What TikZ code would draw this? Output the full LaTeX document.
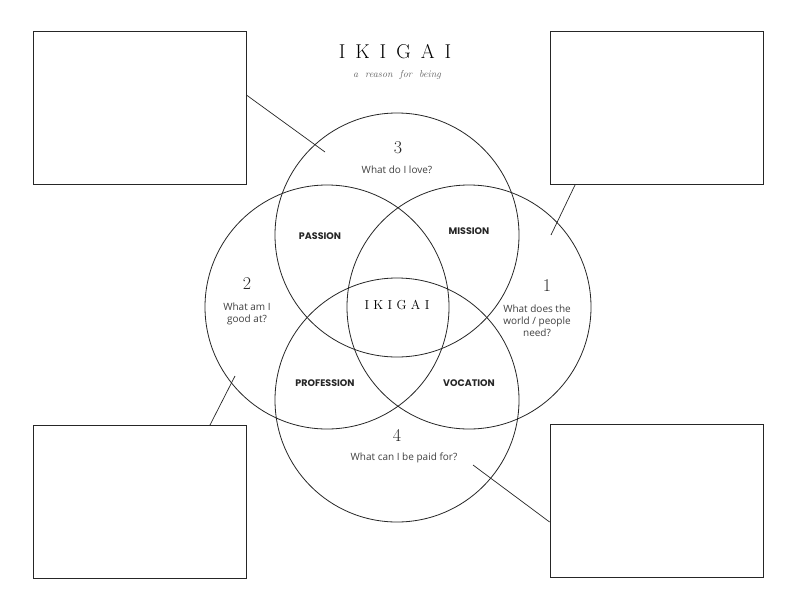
\documentclass[tikz,border=0pt]{standalone}
\usepackage{fontspec}
\newfontfamily\labelfont{Poppins}
\newfontfamily\askfont{Open Sans}
\usetikzlibrary{positioning}

\tikzset{
  ring/.style={draw=black!85, line width=0.8pt},
  notebox/.style={draw=black!85, line width=0.8pt},
  pointer/.style={draw=black!85, line width=0.7pt},
  zone/.style={font=\labelfont\bfseries\fontsize{9.5}{11}\selectfont, text=black!85},
  ask/.style={font=\askfont\fontsize{10}{12}\selectfont, text=black!75, align=center},
  num/.style={font=\fontsize{18}{19}\selectfont, text=black!85}
}

\begin{document}
\begin{tikzpicture}[x=1pt,y=-1pt]
  \useasboundingbox[fill=white] (0,0) rectangle (794,613);

  % circles
  \draw[ring] (397,235) circle (122);
  \draw[ring] (397,400) circle (122);
  \draw[ring] (327,307) circle (122);
  \draw[ring] (469,307) circle (122);

  % title
  \node (title) at (395,52) {\fontsize{20}{22}\selectfont I\,\,\,K\,\,\,I\,\,\,G\,\,\,A\,\,\,I};
  \node[text=black!60] (sub) at (397,75) {\fontsize{10}{11}\selectfont\itshape a\,\, reason\,\, for\,\, being};

  % note boxes
  \node[notebox, minimum width=213pt, minimum height=153pt] (tl) at (139.5,107.5) {};
  \node[notebox, minimum width=213pt, minimum height=153pt] (tr) at (656.5,107.5) {};
  \node[notebox, minimum width=213pt, minimum height=153pt] (bl) at (139.5,501.5) {};
  \node[notebox, minimum width=213pt, minimum height=153pt] (br) at (656.5,500.5) {};

  % pointer ends
  \coordinate (ptl) at (325,152);
  \coordinate (ptr) at (551,235);
  \coordinate (pbl) at (235,376);
  \coordinate (pbr) at (473,465);
  \draw[pointer] (tl.east |- 0,95) -- (ptl);
  \draw[pointer] (575,185) -- (ptr);
  \draw[pointer] (210,425) -- (pbl);
  \draw[pointer] (br.west |- 0,522) -- (pbr);

  % questions
  \node[num] (n3) at (398,148) {3};
  \node[ask] (q3) at (397,170) {What do I love?};
  \node[num] (n2) at (247,284) {2};
  \node[ask] (q2) at (247,314) {What am I\\good at?};
  \node[num] (n1) at (547,286) {1};
  \node[ask] (q1) at (537,321) {What does the\\world / people\\need?};
  \node[num] (n4) at (397,435) {4};
  \node[ask] (q4) at (404,458) {What can I be paid for?};

  % zones
  \node[zone] (passion) at (320,236) {PASSION};
  \node[zone] (mission) at (469,231) {MISSION};
  \node[zone] (profession) at (325,383) {PROFESSION};
  \node[zone] (vocation) at (469,383) {VOCATION};
  \node (core) at (397,305) {\fontsize{13}{14}\selectfont I\,\,K\,\,I\,\,G\,\,A\,\,I};
\end{tikzpicture}
\end{document}
